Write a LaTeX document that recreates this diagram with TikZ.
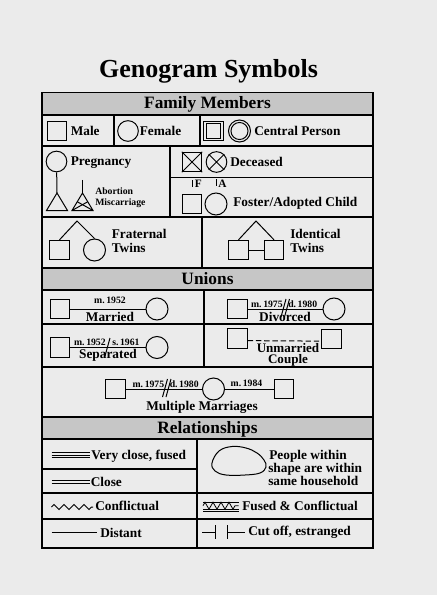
\documentclass[tikz,border=0pt]{standalone}
\usepackage{fontspec}
\setmainfont{Liberation Serif}
\usetikzlibrary{decorations.pathmorphing}
\definecolor{bg}{HTML}{EBEBEB}
\definecolor{hd}{HTML}{C6C6C6}
\tikzset{
  sq/.style={draw, rectangle, minimum size=14.5pt, inner sep=0pt, line width=0.75pt},
  ci/.style={draw, circle, minimum size=15.5pt, inner sep=0pt, line width=0.75pt},
  txt/.style={font=\bfseries\fontsize{10}{11}\selectfont, inner sep=0pt, anchor=base west},
  ctxt/.style={font=\bfseries\fontsize{10}{11}\selectfont, inner sep=0pt, anchor=base},
  sml/.style={font=\bfseries\fontsize{7.3}{8}\selectfont, inner sep=0pt},
  hdrtxt/.style={font=\bfseries\fontsize{13}{15}\selectfont, inner sep=0pt, anchor=base},
  gridline/.style={line width=0.9pt},
  sym/.style={line width=0.75pt},
  zz/.style={sym, decorate, decoration={zigzag, segment length=7.5pt, amplitude=1.9pt}},
}
\begin{document}
\begin{tikzpicture}[x=0.75pt,y=-0.75pt]
\fill[bg] (0,0) rectangle (437,595);
\useasboundingbox (0,0) rectangle (437,595);

% title
\node[font=\bfseries\fontsize{19.5}{22}\selectfont, inner sep=0pt, anchor=base] (title) at (208.5,78) {Genogram Symbols};

% header fills
\fill[hd] (42,92.5) rectangle (373,115);
\fill[hd] (42,268) rectangle (373,290);
\fill[hd] (42,417) rectangle (373,439);

% grid
\draw[gridline] (42,92.5) rectangle (373,548);
\foreach \yy in {115,146,217,268,290,324,367,417,439,493,519}
  \draw[gridline] (42,\yy) -- (373,\yy);
\draw[gridline] (42,469) -- (197,469);
\draw[gridline] (170,177.5) -- (373,177.5);
\draw[gridline] (114,115) -- (114,146);
\draw[gridline] (200,115) -- (200,146);
\draw[gridline] (170,146) -- (170,217);
\draw[gridline] (202,217) -- (202,268);
\draw[gridline] (204,290) -- (204,367);
\draw[gridline] (197,439) -- (197,548);

% headers
\node[hdrtxt] (hfam) at (207.5,108.5) {Family Members};
\node[hdrtxt] (huni) at (207.5,284) {Unions};
\node[hdrtxt] (hrel) at (207.5,433) {Relationships};

% row 1
\node[sq] (male) at (57,131) {};
\node[txt] (maleT) at (70.5,136) {Male};
\node[ci] (female) at (128,131) {};
\node[txt] (femaleT) at (139.5,136) {Female};
\node[sq] (cpsq) at (213.5,131) {};
\node[sq, minimum size=10.8pt] (cpsqi) at (cpsq) {};
\node[ci, minimum size=16.5pt] (cpci) at (239.5,131) {};
\node[ci, minimum size=12.8pt] (cpcii) at (cpci) {};
\node[txt] (cpT) at (254,136) {Central Person};

% row 2 left
\node[ci] (preg) at (56.5,161.5) {};
\node[txt] (pregT) at (70.5,166) {Pregnancy};
\coordinate (ab) at (57,193);
\draw[sym] (preg) -- (ab);
\draw[sym] (ab) -- (46.5,210.5) -- (67.5,210.5) -- cycle;
\coordinate (mtop) at (82.5,180);
\coordinate (mi) at (82.5,193);
\draw[sym] (mtop) -- (mi);
\draw[sym] (mi) -- (72,210.5) -- (93,210.5) -- cycle;
\draw[sym] (72,210.5) -- (87.75,201.75);
\draw[sym] (93,210.5) -- (77.25,201.75);
\node[sml, anchor=base west] (abT) at (95,195) {Abortion};
\node[sml, anchor=base west] (miT) at (95,205) {Miscarriage};

% row 2 right: deceased
\node[sq] (dsq) at (192,162) {};
\draw[sym] (dsq.north west) -- (dsq.south east) (dsq.north east) -- (dsq.south west);
\node[ci] (dci) at (216.5,162) {};
\draw[sym] (dci.north west) -- (dci.south east) (dci.north east) -- (dci.south west);
\node[txt] (decT) at (230,166.5) {Deceased};

% foster / adopted
\node[sq] (fsq) at (192,204) {};
\draw[sym] ([yshift=10pt]fsq.north) -- ([yshift=5pt]fsq.north);
\node[sml, font=\bfseries\fontsize{8.5}{9}\selectfont, anchor=base west] (fT) at (194.5,187.5) {F};
\node[ci, minimum size=16.5pt] (aci) at (216,204) {};
\draw[sym] ([yshift=10pt]aci.north) -- ([yshift=5pt]aci.north);
\node[sml, font=\bfseries\fontsize{8.5}{9}\selectfont, anchor=base west] (aT) at (218,187.5) {A};
\node[txt] (fosT) at (233,206.5) {Foster/Adopted Child};

% row 3: twins
\node[sq] (ftsq) at (59.5,250) {};
\node[ci, minimum size=16.5pt] (ftci) at (94.5,250) {};
\coordinate (ftap) at (77,221);
\draw[sym] (ftsq.north) -- (ftap) -- (ftci.north);
\node[txt] (ftT1) at (111.5,238) {Fraternal};
\node[txt] (ftT2) at (111.5,252) {Twins};

\node[sq] (itsq1) at (238.5,250) {};
\node[sq] (itsq2) at (274,250) {};
\coordinate (itap) at (256,221);
\draw[sym] (itsq1.north) -- (itap) -- (itsq2.north);
\draw[sym] (itsq1) -- (itsq2);
\node[txt] (itT1) at (290,238) {Identical};
\node[txt] (itT2) at (290,252) {Twins};

% married
\node[sq] (msq) at (60,309) {};
\node[ci, minimum size=16.5pt] (mci) at (157,309) {};
\draw[sym] (msq) -- (mci);
\node[sml, anchor=base] (mT1) at (110,303.5) {m.\,1952};
\node[ctxt] (mT2) at (110,321.5) {Married};

% divorced
\node[sq] (dvsq) at (237.5,309) {};
\node[ci, minimum size=16.5pt] (dvci) at (334,309) {};
\draw[sym] (dvsq) -- (dvci);
\draw[sym] (281,317) -- (286,299) (284.5,317) -- (289.5,299);
\node[sml, anchor=base east] (dvT1) at (283,307) {m.\,1975};
\node[sml, anchor=base west] (dvT2) at (288,307) {d.\,1980};
\node[ctxt] (dvT3) at (285,321.5) {Divorced};

% separated
\node[sq] (ssq) at (60,347.5) {};
\node[ci, minimum size=16.5pt] (sci) at (157,347.5) {};
\draw[sym] (ssq) -- (sci);
\draw[sym] (105,356) -- (110,338);
\node[sml, anchor=base east] (sT1) at (106,345.5) {m.\,1952};
\node[sml, anchor=base west] (sT2) at (112,345.5) {s.\,1961};
\node[ctxt] (sT3) at (108,358.5) {Separated};

% unmarried
\node[sq] (usq1) at (237.5,338.5) {};
\node[sq] (usq2) at (331.5,339) {};
\draw[sym, dash pattern=on 4pt off 2.2pt] ([yshift=-1.6pt]usq1.east) -- ([yshift=-1.6pt]usq2.west);
\node[ctxt, font=\bfseries\fontsize{9.8}{10}\selectfont] (uT1) at (288,352.5) {Unmarried};
\node[ctxt, font=\bfseries\fontsize{9.8}{10}\selectfont] (uT2) at (288,363.5) {Couple};

% multiple marriages
\node[sq] (mmsq1) at (115.5,389) {};
\node[ci, minimum size=16.5pt] (mmci) at (213.5,389) {};
\node[sq] (mmsq2) at (284,389) {};
\draw[sym] (mmsq1) -- (mmci) -- (mmsq2);
\draw[sym] (162.5,397) -- (167.5,379) (166,397) -- (171,379);
\node[sml, anchor=base east] (mmT1) at (164.5,387) {m.\,1975};
\node[sml, anchor=base west] (mmT2) at (169.5,387) {d.\,1980};
\node[sml, anchor=base] (mmT3) at (246.5,386.5) {m.\,1984};
\node[ctxt] (mmT4) at (202,410) {Multiple Marriages};

% relationships
\coordinate (vc1) at (51.5,455);
\coordinate (vc2) at (89.5,455);
\draw[sym, line width=0.6pt] ([yshift=1.9pt]vc1) -- ([yshift=1.9pt]vc2);
\draw[sym, line width=0.6pt] (vc1) -- (vc2);
\draw[sym, line width=0.6pt] ([yshift=-1.9pt]vc1) -- ([yshift=-1.9pt]vc2);
\node[txt] (vcT) at (91,459.5) {Very close, fused};

\coordinate (cl1) at (51.5,482);
\coordinate (cl2) at (89.5,482);
\draw[sym, line width=0.6pt] ([yshift=1.1pt]cl1) -- ([yshift=1.1pt]cl2);
\draw[sym, line width=0.6pt] ([yshift=-1.1pt]cl1) -- ([yshift=-1.1pt]cl2);
\node[txt] (clT) at (90.5,486.5) {Close};

\draw[sym] plot[smooth cycle, tension=0.65] coordinates {(212,463) (219,451) (232,446.5) (246,448) (257,453) (264,460) (266,467) (260,473) (245,475) (226,475) (215,471)};
\node[txt] (hhT1) at (269,459) {People within};
\node[txt] (hhT2) at (268,472.5) {shape are within};
\node[txt] (hhT3) at (268,485.5) {same household};

\coordinate (cf1) at (51.5,507);
\coordinate (cf2) at (93,507);
\draw[zz] (cf1) -- (cf2);
\node[txt] (cfT) at (95,510.5) {Conflictual};

\coordinate (fc1) at (203,506);
\coordinate (fc2) at (238.5,506);
\draw[sym, line width=0.6pt] ([yshift=3pt]fc1) -- ([yshift=3pt]fc2);
\draw[sym, line width=0.6pt] ([yshift=-2.6pt]fc1) -- ([yshift=-2.6pt]fc2);
\draw[sym, line width=0.6pt] ([yshift=-4.2pt]fc1) -- ([yshift=-4.2pt]fc2);
\draw[zz, line width=0.6pt, decoration={zigzag, segment length=6pt, amplitude=2.6pt}] ([yshift=0.2pt]fc1) -- ([yshift=0.2pt]fc2);
\node[txt] (fcT) at (242,510.5) {Fused \& Conflictual};

\coordinate (ds1) at (51.5,532);
\coordinate (ds2) at (97,532);
\draw[sym] (ds1) -- (ds2);
\node[txt] (dsT) at (100,537) {Distant};

\coordinate (co1) at (202,532);
\coordinate (co2) at (215,532);
\coordinate (co3) at (227,532);
\coordinate (co4) at (245,532);
\draw[sym] (co1) -- (co2);
\draw[sym] ([yshift=5.2pt]co2) -- ([yshift=-5.2pt]co2);
\draw[sym] ([yshift=5.2pt]co3) -- ([yshift=-5.2pt]co3);
\draw[sym] (co3) -- (co4);
\node[txt] (coT) at (248,535.5) {Cut off, estranged};
\end{tikzpicture}
\end{document}
